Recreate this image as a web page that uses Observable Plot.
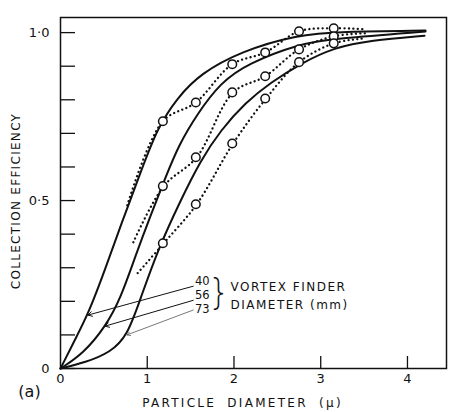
<!DOCTYPE html>
<html><head><meta charset="utf-8">
<script src="https://cdn.jsdelivr.net/npm/d3@7"></script>
<script src="https://cdn.jsdelivr.net/npm/@observablehq/plot@0.6"></script>
<style>body{margin:0;background:#fff}</style>
</head><body><div id="chart"></div>
<script>
// Fitted (solid) curves, one per vortex finder diameter
const fit40X = [0, 0.161, 0.323, 0.519, 0.715, 0.922, 1.118, 1.349, 1.614, 2.075, 2.732, 3.228, 4.208];
const fit40Y = [0, 0.083, 0.164, 0.298, 0.441, 0.583, 0.717, 0.807, 0.878, 0.944, 0.994, 1.003, 1.006];
const fit56X = [0, 0.265, 0.519, 0.692, 0.865, 1.038, 1.211, 1.360, 1.579, 1.845, 2.156, 2.767, 3.159, 4.208];
const fit56Y = [0, 0.045, 0.125, 0.208, 0.336, 0.455, 0.569, 0.664, 0.759, 0.851, 0.908, 0.968, 0.982, 1.003];
const fit73X = [0, 0.288, 0.576, 0.772, 0.922, 1.118, 1.383, 1.614, 1.845, 2.133, 2.421, 2.767, 3.159, 3.574, 4.197];
const fit73Y = [0, 0.018, 0.048, 0.098, 0.208, 0.351, 0.500, 0.619, 0.709, 0.792, 0.851, 0.908, 0.956, 0.977, 0.991];

// Measured points (circles)
const expX = [1.18, 1.56, 1.98, 2.36, 2.75, 3.15];
const exp40 = [0.736, 0.792, 0.906, 0.941, 1.004, 1.013];
const exp56 = [0.543, 0.629, 0.822, 0.870, 0.950, 0.989];
const exp73 = [0.373, 0.489, 0.670, 0.804, 0.912, 0.968];

// Dotted trend lines through the measured points
const dot40X = [0.77, 1.18, 1.56, 1.98, 2.36, 2.75, 3.15, 3.50];
const dot40Y = [0.486, 0.736, 0.792, 0.906, 0.941, 1.004, 1.013, 1.010];
const dot56X = [0.84, 1.19, 1.57, 1.99, 2.36, 2.75, 3.15, 3.51];
const dot56Y = [0.376, 0.543, 0.629, 0.822, 0.870, 0.950, 0.989, 0.998];
const dot73X = [0.89, 1.19, 1.57, 1.99, 2.37, 2.75, 3.15, 3.51];
const dot73Y = [0.284, 0.373, 0.489, 0.670, 0.804, 0.912, 0.968, 0.983];

// Legend labels / arrows
const seriesNames = ["40", "56", "73"];
const arrowFromX = [1.53, 1.53, 1.53];
const arrowFromY = [0.245, 0.203, 0.174];
const arrowToX = [0.317, 0.513, 0.766];
const arrowToY = [0.159, 0.126, 0.100];
const labelX = [1.72, 1.72, 1.72];
const labelY = [0.259, 0.217, 0.176];
const legendText = ["VORTEX FINDER", "DIAMETER (mm)"];
const legendTextX = [1.96, 1.96];
const legendTextY = [0.241, 0.188];

// Ticks
const xTicks = [0, 1, 2, 3, 4];
const yMinorTicks = d3.range(0, 11).map(i => i / 10);
const yLabelTicks = [0, 0.5, 1.0];
const yTickLabels = ["0", "0·5", "1·0"];

const toPts = (xs, ys, s) => xs.map((x, i) => ({x, y: ys[i], s}));
const fits = [...toPts(fit40X, fit40Y, "40"), ...toPts(fit56X, fit56Y, "56"), ...toPts(fit73X, fit73Y, "73")];
const dots = [...toPts(dot40X, dot40Y, "40"), ...toPts(dot56X, dot56Y, "56"), ...toPts(dot73X, dot73Y, "73")];
const circles = [...toPts(expX, exp40, "40"), ...toPts(expX, exp56, "56"), ...toPts(expX, exp73, "73")];
const arrows = seriesNames.map((s, i) => ({s, x1: arrowFromX[i], y1: arrowFromY[i], x2: arrowToX[i], y2: arrowToY[i]}));
const labels = seriesNames.map((s, i) => ({s, x: labelX[i], y: labelY[i]}));
const legend = legendText.map((t, i) => ({t, x: legendTextX[i], y: legendTextY[i]}));

const FONT = "DejaVu Sans";

const chart = Plot.plot({
  width: 474,
  height: 412,
  marginLeft: 60,
  marginRight: 28,
  marginTop: 17,
  marginBottom: 44,
  style: {fontFamily: FONT, background: "#fff", color: "#111"},
  x: {domain: [0, 4.45], axis: null},
  y: {domain: [0, 1.045], axis: null},
  marks: [
    Plot.frame({stroke: "#111", strokeWidth: 1.5}),
    Plot.axisY(yMinorTicks, {anchor: "left", tickSize: -15, tickFormat: () => "", label: null, strokeWidth: 1.3}),
    Plot.axisY(yLabelTicks, {anchor: "left", tickSize: 0, tickPadding: 11, fontSize: 13, label: null,
      tickFormat: d => yTickLabels[yLabelTicks.indexOf(d)]}),
    Plot.axisX(xTicks.slice(1), {anchor: "bottom", tickSize: -12, tickFormat: () => "", label: null, strokeWidth: 1.3}),
    Plot.axisX(xTicks, {anchor: "bottom", tickSize: 0, tickPadding: 5, fontSize: 13, label: null}),
    Plot.line(fits, {x: "x", y: "y", z: "s", stroke: "#111", strokeWidth: 2, curve: "basis"}),
    Plot.line(dots, {x: "x", y: "y", z: "s", stroke: "#111", strokeWidth: 2.3, strokeDasharray: "0.1,4.3", strokeLinecap: "round", curve: "catmull-rom"}),
    Plot.dot(circles, {x: "x", y: "y", r: 4.3, fill: "#fff", stroke: "#111", strokeWidth: 1.5}),
    Plot.arrow(arrows.filter(d => d.s !== "73"), {x1: "x1", y1: "y1", x2: "x2", y2: "y2", stroke: "#111", strokeWidth: 1, headLength: 7}),
    Plot.arrow(arrows.filter(d => d.s === "73"), {x1: "x1", y1: "y1", x2: "x2", y2: "y2", stroke: "#555", strokeWidth: 0.8, headLength: 7}),
    Plot.text(labels, {x: "x", y: "y", text: "s", textAnchor: "end", fontSize: 11.5, fill: "#111"}),
    Plot.text(["}"], {frameAnchor: "bottom-left", textAnchor: "middle", lineAnchor: "middle", dx: 158, dy: -75,
      fontSize: 36, fontWeight: 200, fontFamily: "Inter", fill: "#111"}),
    Plot.text(legend, {x: "x", y: "y", text: "t", textAnchor: "start", fontSize: 12, fill: "#111"}),
    Plot.text(["COLLECTION EFFICIENCY"], {frameAnchor: "left", textAnchor: "middle", lineAnchor: "middle", dx: -44, dy: 8, rotate: -90, fontSize: 12, fill: "#111"}),
    Plot.text(["PARTICLE DIAMETER (μ)"], {frameAnchor: "bottom", textAnchor: "middle", lineAnchor: "middle", dx: -11, dy: 35, fontSize: 12, fill: "#111"}),
    Plot.text(["(a)"], {frameAnchor: "bottom-left", textAnchor: "middle", lineAnchor: "middle", dx: -31, dy: 23, fontSize: 16, fill: "#111"})
  ]
});

// letter spacing for the lettering-guide style titles
chart.querySelectorAll("text").forEach(t => {
  const s = t.textContent;
  if (s === "COLLECTION EFFICIENCY") t.setAttribute("letter-spacing", "1.3");
  if (s === "PARTICLE DIAMETER (μ)") { t.setAttribute("letter-spacing", "2.3"); t.setAttribute("word-spacing", "5"); }
  if (s === "VORTEX FINDER" || s === "DIAMETER (mm)") t.setAttribute("letter-spacing", "1.5");
});
document.getElementById("chart").appendChild(chart);
</script>
</body></html>
